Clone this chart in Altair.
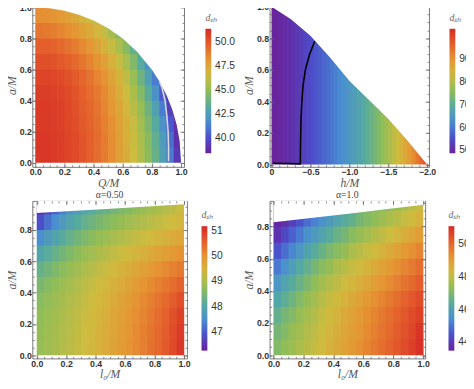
import altair as alt
import pandas as pd

# ---------------- data ----------------
RAINBOW = ["#6a219a", "#4b4fcb", "#4a8ed1", "#55aaa0", "#8fbd58",
           "#cfbc3f", "#e59634", "#e4602c", "#d62a25"]

# Top-left: d_sh over (Q/M, a/M)
tl_q_edges = [round(0.05 * i, 3) for i in range(21)]
tl_a_edges = [round(0.1 * i, 3) for i in range(11)]
tl_rows = [
    [51.0, 51.0, 50.9, 50.8, 50.6, 50.4, 50.1, 49.8, 49.4, 48.9, 48.4, 47.8, 47.2, 46.5, 45.7, 44.8, 43.8, 42.6, 41.1, 39.3],
    [51.0, 51.0, 50.9, 50.8, 50.6, 50.4, 50.1, 49.8, 49.4, 48.9, 48.4, 47.8, 47.1, 46.4, 45.6, 44.7, 43.6, 42.4, 40.8, 39.0],
    [50.9, 50.9, 50.8, 50.7, 50.5, 50.3, 50.0, 49.7, 49.3, 48.8, 48.3, 47.7, 47.0, 46.3, 45.4, 44.4, 43.3, 41.9, 40.2, 39.0],
    [50.9, 50.9, 50.8, 50.7, 50.5, 50.2, 49.9, 49.6, 49.2, 48.7, 48.1, 47.5, 46.8, 46.0, 45.1, 44.0, 42.7, 41.2, 39.5, 39.0],
    [50.8, 50.8, 50.7, 50.6, 50.4, 50.1, 49.8, 49.4, 49.0, 48.5, 47.9, 47.2, 46.5, 45.6, 44.6, 43.4, 41.9, 40.3, 39.0, 39.0],
    [50.6, 50.6, 50.5, 50.4, 50.2, 49.9, 49.6, 49.2, 48.7, 48.2, 47.6, 46.9, 46.1, 45.1, 44.0, 42.7, 41.2, 39.8, 39.0, 39.0],
    [50.3, 50.3, 50.2, 50.0, 49.8, 49.5, 49.1, 48.7, 48.2, 47.7, 47.1, 46.3, 45.5, 44.5, 43.3, 42.0, 40.8, 39.5, 39.0, 39.0],
    [49.8, 49.8, 49.7, 49.5, 49.2, 48.9, 48.5, 48.1, 47.6, 47.0, 46.3, 45.6, 44.7, 43.7, 42.5, 41.3, 40.0, 39.0, 39.0, 39.0],
    [49.1, 49.0, 48.9, 48.7, 48.4, 48.1, 47.7, 47.3, 46.8, 46.2, 45.5, 44.7, 43.8, 42.8, 41.6, 40.5, 39.5, 39.0, 39.0, 39.0],
    [48.4, 48.3, 48.2, 48.0, 47.7, 47.3, 46.9, 46.5, 46.0, 45.4, 44.7, 43.9, 43.0, 42.0, 41.0, 40.0, 39.0, 39.0, 39.0, 39.0],
]
tl_bound_q = [0, 0.1, 0.2, 0.3, 0.4, 0.5, 0.6, 0.7, 0.8, 0.85, 0.9, 0.94, 0.97, 0.99, 1.0, 1.003, 1.02]
tl_bound_a = [1.0, 0.995, 0.98, 0.954, 0.917, 0.866, 0.8, 0.714, 0.6, 0.527, 0.436, 0.341, 0.243, 0.141, 0.0, -0.026, -0.026]
tl_line_q = [0.914, 0.914, 0.911, 0.903, 0.89, 0.87, 0.852]
tl_line_a = [0.01, 0.1, 0.2, 0.3, 0.4, 0.48, 0.52]

# Top-right: d_sh over (h/M, a/M); vertical stripes
tr_h_edges = [round(-0.05 * i, 3) for i in range(41)]
tr_a_edges = [0.0, 1.0]
tr_rows = [[491, 494, 498, 503, 509, 516, 523, 530, 538, 546, 554, 563, 571, 580, 590, 600,
            610, 620, 631, 642, 653, 665, 677, 690, 703, 717, 731, 746, 761, 777, 794, 811,
            829, 848, 868, 889, 911, 934, 959, 986]]
tr_bound_h = [0, -0.25, -0.5, -0.75, -1.0, -1.25, -1.5, -1.75, -2.0, -2.005, -2.025]
tr_bound_a = [1.0, 0.92, 0.815, 0.68, 0.53, 0.41, 0.29, 0.15, 0.0, -0.015, -0.015]
tr_line_h = [-0.02, -0.2, -0.37, -0.372, -0.375, -0.38, -0.39, -0.405, -0.435, -0.49, -0.555]
tr_line_a = [0.008, 0.006, 0.004, 0.1, 0.2, 0.3, 0.4, 0.5, 0.6, 0.7, 0.78]

# Bottom-left (alpha = 0.50)
bl_l_edges = [round(0.05 * i, 3) for i in range(21)]
bl_a_edges = [round(0.1 * i, 3) for i in range(11)]
bl_rows = [
    [48.80, 48.88, 48.96, 49.05, 49.14, 49.23, 49.33, 49.43, 49.53, 49.64, 49.75, 49.86, 49.98, 50.10, 50.23, 50.36, 50.50, 50.65, 50.82, 51.05],
    [48.78, 48.86, 48.94, 49.03, 49.12, 49.21, 49.31, 49.41, 49.51, 49.62, 49.73, 49.84, 49.96, 50.08, 50.21, 50.34, 50.48, 50.63, 50.80, 51.00],
    [48.74, 48.83, 48.91, 49.00, 49.09, 49.18, 49.28, 49.38, 49.48, 49.59, 49.70, 49.81, 49.93, 50.05, 50.17, 50.30, 50.44, 50.58, 50.74, 50.92],
    [48.66, 48.76, 48.85, 48.94, 49.04, 49.13, 49.23, 49.33, 49.43, 49.53, 49.64, 49.75, 49.86, 49.98, 50.10, 50.22, 50.35, 50.48, 50.62, 50.78],
    [48.52, 48.63, 48.74, 48.84, 48.94, 49.04, 49.14, 49.24, 49.34, 49.44, 49.54, 49.64, 49.75, 49.86, 49.97, 50.08, 50.19, 50.31, 50.43, 50.56],
    [48.30, 48.43, 48.56, 48.68, 48.79, 48.90, 49.00, 49.10, 49.20, 49.30, 49.40, 49.50, 49.60, 49.70, 49.80, 49.90, 50.00, 50.10, 50.20, 50.30],
    [47.98, 48.15, 48.30, 48.44, 48.57, 48.69, 48.80, 48.91, 49.01, 49.11, 49.20, 49.29, 49.38, 49.47, 49.56, 49.65, 49.74, 49.83, 49.92, 50.01],
    [47.52, 47.76, 47.96, 48.14, 48.29, 48.43, 48.55, 48.67, 48.77, 48.87, 48.96, 49.05, 49.14, 49.22, 49.30, 49.38, 49.46, 49.54, 49.62, 49.70],
    [46.85, 47.20, 47.50, 47.75, 47.95, 48.12, 48.27, 48.40, 48.51, 48.61, 48.70, 48.79, 48.88, 48.96, 49.04, 49.12, 49.20, 49.28, 49.36, 49.44],
    [46.30, 46.70, 47.05, 47.35, 47.60, 47.80, 47.97, 48.12, 48.25, 48.36, 48.46, 48.55, 48.64, 48.73, 48.81, 48.89, 48.97, 49.05, 49.15, 49.30],
]
bl_bound_l = [0, 0.5, 1.0, 1.003, 1.02]
bl_bound_a = [0.907, 0.935, 0.964, -0.02, -0.02]

# Bottom-right (alpha = 1.0)
br_l_edges = [round(0.05 * i, 3) for i in range(21)]
br_a_edges = [round(0.1 * i, 3) for i in range(11)]
br_rows = [
    [471, 473, 475, 477, 479, 481, 483, 485, 487, 489, 491, 493, 495, 497, 499, 501, 503, 505, 507, 510],
    [469, 471, 474, 476, 478, 480, 482, 484, 486, 488, 490, 492, 494, 496, 498, 500, 502, 504, 506, 509],
    [466, 469, 471, 474, 476, 478, 481, 483, 485, 487, 489, 491, 493, 495, 497, 499, 501, 503, 505, 507],
    [462, 465, 468, 471, 474, 476, 479, 481, 483, 485, 487, 489, 491, 493, 495, 497, 499, 501, 503, 505],
    [457, 461, 464, 467, 470, 473, 476, 478, 480, 482, 484, 486, 488, 490, 492, 494, 496, 498, 500, 502],
    [451, 455, 459, 463, 466, 469, 472, 474, 477, 479, 481, 483, 485, 487, 489, 491, 493, 495, 497, 499],
    [445, 449, 453, 457, 461, 464, 467, 470, 472, 474, 477, 479, 481, 483, 485, 487, 489, 491, 493, 495],
    [439, 443, 447, 451, 455, 458, 461, 464, 467, 469, 472, 474, 476, 478, 480, 482, 484, 486, 488, 490],
    [436, 438, 441, 445, 449, 452, 455, 458, 461, 464, 466, 469, 471, 473, 475, 477, 479, 481, 483, 485],
    [436, 436, 437, 440, 443, 446, 449, 452, 455, 458, 461, 464, 466, 468, 470, 472, 474, 476, 479, 481],
]
br_bound_l = [0, 0.5, 1.0, 1.003, 1.013]
br_bound_a = [0.827, 0.88, 0.936, -0.02, -0.02]


# ---------------- helpers ----------------
def cells(xe, ye, rows):
    recs = []
    for i, row in enumerate(rows):
        for j, v in enumerate(row):
            recs.append({"x0": xe[j], "x1": xe[j + 1], "y0": ye[i], "y1": ye[i + 1], "v": v})
    return pd.DataFrame(recs)


def steps(a, b, s):
    n = int(round((b - a) / s))
    return [round(a + s * i, 4) for i in range(n + 1)]


def ax(orient, vals, size, labels=False, title=None, fmt=None, expr=None):
    kw = dict(orient=orient, values=vals, labels=labels, ticks=True, tickSize=size,
              offset=-size, domain=False, grid=False, zindex=1, tickWidth=0.8,
              tickColor="#666")
    if labels:
        kw["labelPadding"] = 1
        kw["title"] = title
        kw["titlePadding"] = 1
        if fmt:
            kw["format"] = fmt
        if expr:
            kw["labelExpr"] = expr
    else:
        kw["title"] = None
    return alt.Axis(**kw)


def panel(df, bx, by, lines, xdom, ydom, xrev, xmaj, ymaj, xmin, ymin, cdom, cvals, cfmt,
          xtitle, ytitle, w, h, legx, title=None, line_color="black", xexpr=None):
    n = len(RAINBOW)
    dom = [cdom[0] + (cdom[1] - cdom[0]) * i / (n - 1) for i in range(n)]
    cs = alt.Scale(domain=dom, range=RAINBOW, interpolate="rgb")
    xs = alt.Scale(domain=xdom, reverse=xrev, zero=False, nice=False)
    ys = alt.Scale(domain=ydom, zero=False, nice=False)
    bdf = pd.DataFrame({"bx": bx, "by": by, "top": [ydom[1]] * len(bx)})

    base = alt.Chart(df).mark_rect(x2Offset=0.7, y2Offset=-0.7, clip=True).encode(
        x=alt.X("x0:Q", scale=xs, axis=ax("bottom", xmaj, 4, True, xtitle, ".1f", xexpr)),
        x2="x1",
        y=alt.Y("y0:Q", scale=ys, axis=ax("left", ymaj, 4, True, ytitle, ".1f")),
        y2="y1",
        color=alt.Color("v:Q", scale=cs, legend=alt.Legend(
            type="gradient", title="dₛₕ", values=cvals, format=cfmt,
            gradientLength=128, gradientThickness=6, orient="none",
            legendX=w + legx, legendY=10, titlePadding=6, labelOffset=4,
            direction="vertical")),
    )
    mask = alt.Chart(bdf).mark_area(color="white", opacity=1, clip=True).encode(
        x=alt.X("bx:Q", scale=xs, axis=ax("top", xmaj, 4)),
        y=alt.Y("by:Q", scale=ys, axis=ax("right", ymaj, 4)),
        y2="top:Q",
    )
    c1 = alt.Chart(bdf).mark_point(opacity=0, size=1).encode(
        x=alt.X("bx:Q", scale=xs, axis=ax("bottom", xmin, 2)),
        y=alt.Y("by:Q", scale=ys, axis=ax("left", ymin, 2)),
    )
    c2 = alt.Chart(bdf).mark_point(opacity=0, size=1).encode(
        x=alt.X("bx:Q", scale=xs, axis=ax("top", xmin, 2)),
        y=alt.Y("by:Q", scale=ys, axis=ax("right", ymin, 2)),
    )
    layers = [base, mask, c1, c2]
    if lines is not None:
        ldf = pd.DataFrame({"lx": lines[0], "ly": lines[1], "o": list(range(len(lines[0])))})
        ln = alt.Chart(ldf).mark_line(color=line_color, strokeWidth=1.6).encode(
            x=alt.X("lx:Q", scale=xs, axis=None),
            y=alt.Y("ly:Q", scale=ys, axis=None),
            order="o:Q",
        )
        layers.append(ln)
    props = dict(width=w, height=h)
    if title:
        props["title"] = alt.TitleParams(title, fontSize=10, font="Liberation Serif",
                                         fontWeight="normal", color="#444", offset=1)
    return alt.layer(*layers).resolve_axis(x="independent", y="independent").properties(**props)


unit_maj = steps(0, 1.0, 0.2)
unit_min = steps(0, 1.0, 0.05)

tl = panel(cells(tl_q_edges, tl_a_edges, tl_rows), tl_bound_q, tl_bound_a,
           (tl_line_q, tl_line_a), [-0.02, 1.02], [-0.026, 1.026], False,
           unit_maj, unit_maj, unit_min, unit_min, [38.4, 51.4],
           [40.0, 42.5, 45.0, 47.5, 50.0], ".1f", "Q/M", "a/M", 156, 168, 22,
           line_color="#d6d6de")

tr = panel(cells(tr_h_edges, tr_a_edges, tr_rows), tr_bound_h, tr_bound_a,
           (tr_line_h, tr_line_a), [-2.025, 0.025], [-0.015, 1.02], True,
           [0, -0.5, -1.0, -1.5, -2.0], unit_maj, steps(-2.0, 0, 0.1), unit_min,
           [488, 1035], [500, 600, 700, 800, 900], "d", "h/M", "a/M", 164, 168, 21,
           xexpr="datum.value == 0 ? '0' : format(datum.value, '.1f')")

bl = panel(cells(bl_l_edges, bl_a_edges, bl_rows), bl_bound_l, bl_bound_a, None,
           [-0.03, 1.02], [-0.02, 0.985], False,
           unit_maj, steps(0, 0.8, 0.2), unit_min, steps(0, 0.95, 0.05),
           [46.25, 51.2], [47, 48, 49, 50, 51], "d", "l₀/M", "a/M", 159, 162, 15,
           title="α=0.50")

br = panel(cells(br_l_edges, br_a_edges, br_rows), br_bound_l, br_bound_a, None,
           [-0.026, 1.013], [-0.02, 0.96], False,
           unit_maj, steps(0, 0.8, 0.2), unit_min, steps(0, 0.95, 0.05),
           [435, 511], [440, 460, 480, 500], "d", "l₀/M", "a/M", 160, 162, 24,
           title="α=1.0")

chart = alt.concat(tl, tr, bl, br, columns=2, spacing={"row": 0, "column": 5}).resolve_scale(
    color="independent", x="independent", y="independent"
).properties(
    padding={"left": -4, "top": -12, "right": -12, "bottom": 0}
).configure_view(
    stroke="#777", strokeWidth=1
).configure_axis(
    labelFont="Liberation Sans", labelFontWeight="bold", labelFontSize=9,
    labelColor="#333", titleFont="Liberation Serif", titleFontStyle="italic",
    titleFontWeight="normal", titleFontSize=12, titleColor="#555"
).configure_legend(
    titleFont="Liberation Serif", titleFontStyle="italic", titleFontWeight="normal",
    titleFontSize=10, titleColor="#666", labelFont="Liberation Sans",
    labelFontSize=10.5, labelColor="#333", gradientStrokeWidth=0
)

chart.save("out.html", embed_options={"renderer": "svg", "actions": False})
